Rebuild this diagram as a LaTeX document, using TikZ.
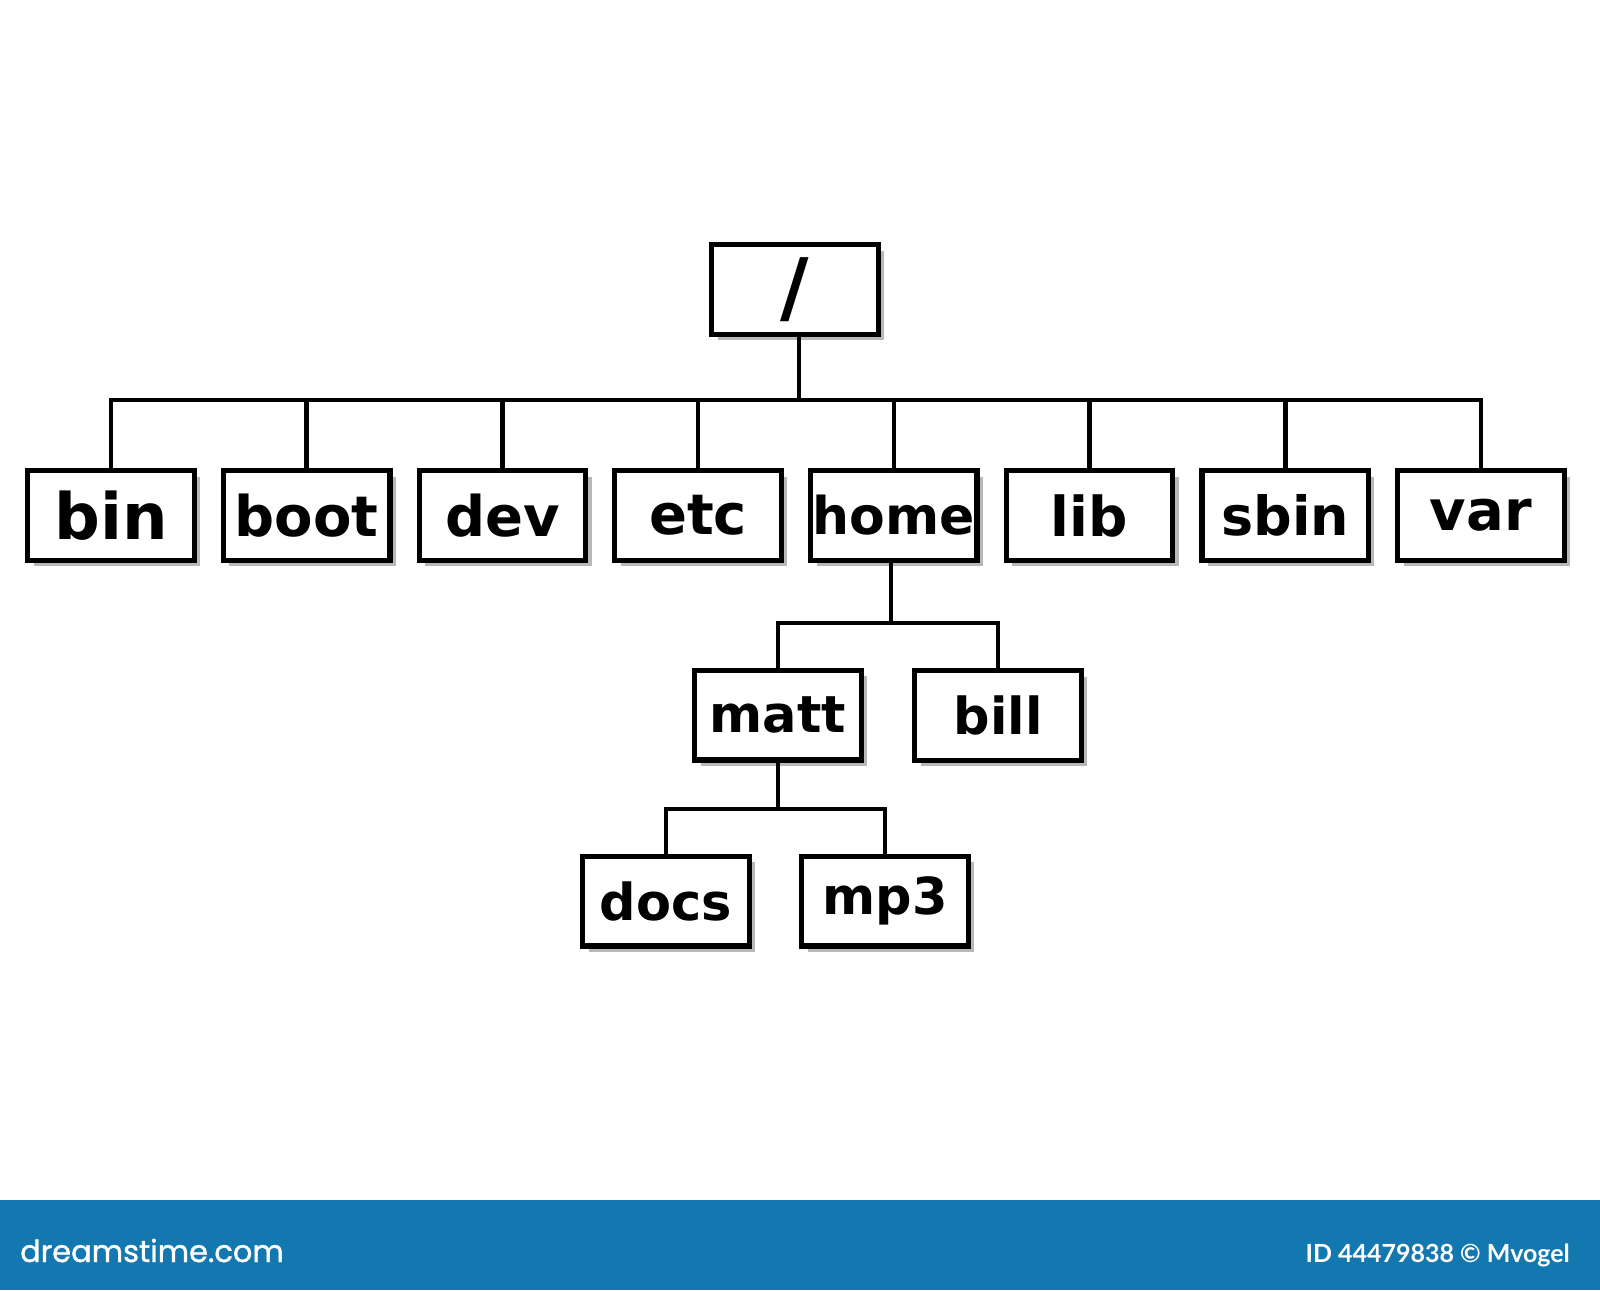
\documentclass[tikz,border=0pt]{standalone}
\usepackage{fontspec}
\setmainfont{DejaVu Sans}
\newfontfamily\wmfont[FakeBold=1.2]{Poppins}
\newfontfamily\idfont{Lato}
\usetikzlibrary{shadows}
\definecolor{barblue}{RGB}{20,120,176}
\begin{document}
\begin{tikzpicture}[x=1pt,y=-1pt,
  dirbox/.style={draw=black,line width=5.2pt,fill=white,minimum width=166.5pt,minimum height=89.8pt,inner sep=0pt,
    font=\bfseries\fontsize{#1}{#1}\selectfont,
    drop shadow={shadow xshift=6pt,shadow yshift=-6pt,fill=black,opacity=0.28}},
  dirbox/.default=56,
  link/.style={line width=4.6pt,line join=miter}]
\useasboundingbox (0,0) rectangle (1600,1290);
% root
\node[dirbox=78] (root) at (795,289.5) {/};
% first level
\node[dirbox=64] (bin)  at (111,515.5) {bin};
\node[dirbox=56] (boot) at (306.7,515.5) {boot};
\node[dirbox=56] (dev)  at (502.4,515.5) {dev};
\node[dirbox=56] (etc)  at (698.1,515.5) {etc};
\node[dirbox=52] (home) at (893.8,515.5) {home};
\node[dirbox=55] (lib)  at (1089.5,515.5) {lib};
\node[dirbox=54] (sbin) at (1285.2,515.5) {sbin};
\node[dirbox=56] (var)  at (1480.9,515.5) {var};
% second level
\node[dirbox=51] (matt) at (778,715) {matt};
\node[dirbox=51] (bill) at (998,715.5) {bill};
% third level
\node[dirbox=51] (docs) at (666,901) {docs};
\node[dirbox=51] (mp3)  at (885,901) {mp3};
% connectors
\coordinate (j1) at (799,400);
\draw[link] (root.south -| j1) -- (j1);
\draw[link] (bin.north) |- (j1) -| (var.north);
\foreach \n in {boot,dev,etc,home,lib,sbin}
  \draw[link] (\n.north) -- (\n.north |- j1);
\coordinate (j2) at (891,623);
\draw[link] (home.south -| j2) -- (j2);
\draw[link] (matt.north) |- (j2) -| (bill.north);
\coordinate (j3) at (778,809);
\draw[link] (matt.south) -- (j3);
\draw[link] (docs.north) |- (j3) -| (mp3.north);
% bottom bar
\fill[barblue] (0,1200) rectangle (1600,1290);
\node[anchor=base west,text=white,inner sep=0pt,font=\wmfont\fontsize{30.5}{31}\selectfont] (wm) at (20,1262) {dreamstime.com};
\node[anchor=base east,text=white,inner sep=0pt,font=\idfont\bfseries\fontsize{25}{26}\selectfont] (id) at (1570,1262) {ID 44479838 © Mvogel};
\end{tikzpicture}
\end{document}
